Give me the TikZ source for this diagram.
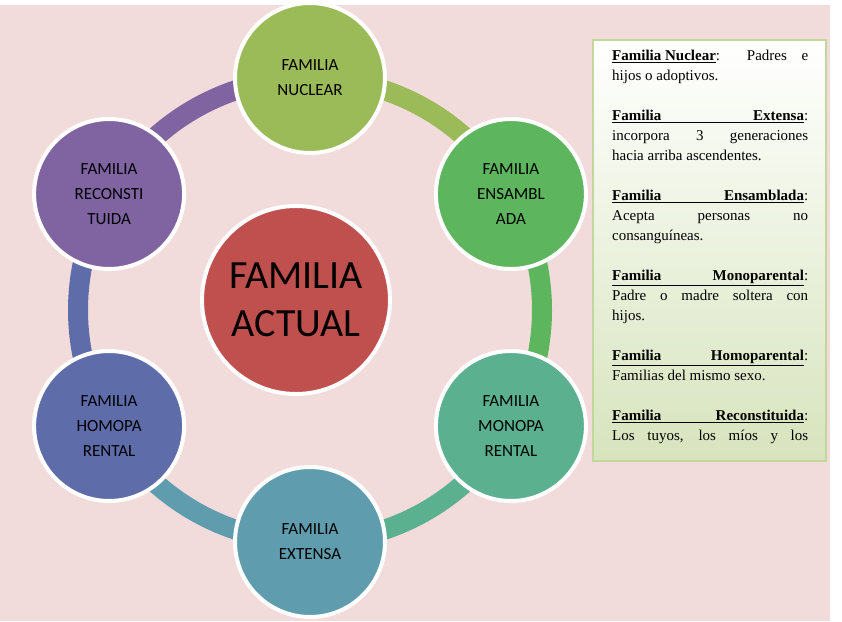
\documentclass[tikz,border=0pt]{standalone}
\usepackage{fontspec}
\setmainfont{Liberation Serif}
\newfontfamily\carlitofont{Carlito}
\definecolor{bgp}{HTML}{F2DCDB}
\definecolor{cnuc}{HTML}{9BBB59}
\definecolor{cens}{HTML}{5DB55E}
\definecolor{cmono}{HTML}{5BB08F}
\definecolor{cext}{HTML}{5F9DAE}
\definecolor{chomo}{HTML}{5E6DAA}
\definecolor{crec}{HTML}{8064A2}
\definecolor{ccen}{HTML}{C0504D}
\definecolor{boxb}{HTML}{C3D69B}
\definecolor{boxg}{HTML}{D7E4BD}
\newcommand\myhdr[1]{\noindent\setbox0\hbox{:}\underline{\makebox[\dimexpr\linewidth-\wd0\relax][s]{\textbf{#1}}}:\par}
\begin{document}
\begin{tikzpicture}[x=1pt,y=1pt,
  fam/.style={circle,minimum size=150pt,inner sep=0pt,draw=white,line width=4pt,
    font=\carlitofont\fontsize{17}{25}\selectfont,align=center,text=black},
  seg/.style={line width=20pt}]
\useasboundingbox (0,0) rectangle (842,-621);
\clip (0,0) rectangle (842,-621);
\fill[white] (0,0) rectangle (842,-621);
\fill[bgp] (0,-5) rectangle (830,-621);
\coordinate (O) at (310,-310);
\foreach \a/\b/\c in {90/30/cnuc,30/-30/cens,-30/-90/cmono,-90/-150/cext,-150/-210/chomo,150/90/crec}
  \draw[seg,\c] ([shift={(\a:232)}]O) arc[start angle=\a,end angle=\b,radius=232];
\node[fam,fill=cnuc] (nuc) at ([shift={(90:232)}]O) {FAMILIA\\NUCLEAR};
\node[fam,fill=cens] (ens) at ([shift={(30:232)}]O) {FAMILIA\\ENSAMBL\\ADA};
\node[fam,fill=cmono] (mono) at ([shift={(-30:232)}]O) {FAMILIA\\MONOPA\\RENTAL};
\node[fam,fill=cext] (ext) at ([shift={(-90:232)}]O) {FAMILIA\\EXTENSA};
\node[fam,fill=chomo] (homo) at ([shift={(-150:232)}]O) {FAMILIA\\HOMOPA\\RENTAL};
\node[fam,fill=crec] (rec) at ([shift={(150:232)}]O) {FAMILIA\\RECONSTI\\TUIDA};
\node[fam,fill=ccen,minimum size=188pt,font=\carlitofont\fontsize{40}{48}\selectfont] (cen) at (296,-300) {FAMILIA\\ACTUAL};
\shade[top color=white,bottom color=boxg,draw=boxb,line width=2pt] (593,-40) rectangle (826,-461);
\begin{scope}
\clip (593,-40) rectangle (826,-461);
\node[anchor=north west,inner sep=0pt,text width=196pt,font=\fontsize{15}{20}\selectfont,align=justify] (txt) at (612,-50) {%
\noindent\underline{\textbf{Familia Nuclear}}: Padres e\linebreak hijos o adoptivos.\par\vspace{20pt}
\myhdr{Familia Extensa}
incorpora 3 generaciones\linebreak hacia arriba ascendentes.\par\vspace{20pt}
\myhdr{Familia Ensamblada}
Acepta personas no\linebreak consanguíneas.\par\vspace{20pt}
\myhdr{Familia Monoparental}
Padre o madre soltera con\linebreak hijos.\par\vspace{20pt}
\myhdr{Familia Homoparental}
Familias del mismo sexo.\par\vspace{20pt}
\myhdr{Familia Reconstituida}
Los tuyos, los míos y los\linebreak};
\end{scope}
\end{tikzpicture}
\end{document}
